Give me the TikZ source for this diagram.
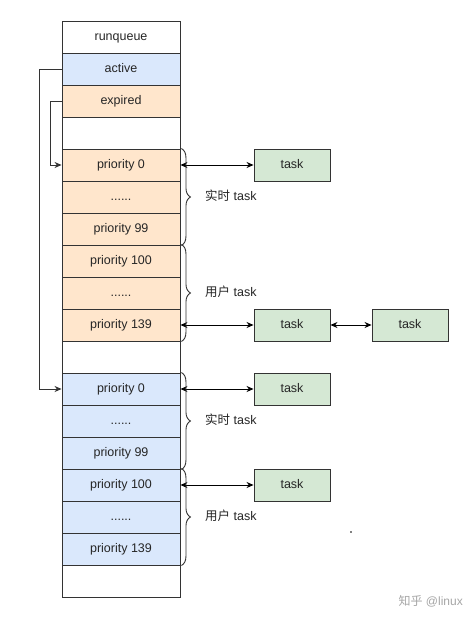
\documentclass[tikz,border=0pt]{standalone}
\usepackage{fontspec}
\setmainfont{Liberation Sans}
\newfontfamily\cjk{Noto Sans CJK SC}
\usetikzlibrary{arrows.meta,decorations.pathreplacing}
\definecolor{linec}{HTML}{333333}
\definecolor{bluef}{HTML}{DAE8FC}
\definecolor{orangef}{HTML}{FFE6CC}
\definecolor{greenf}{HTML}{D5E8D4}
\begin{document}
\begin{tikzpicture}[x=1pt,y=-1pt,
  font=\fontsize{12.5}{14}\selectfont,
  cell/.style={draw=linec, line width=0.9pt, minimum width=118pt, minimum height=32pt, inner sep=0pt, text=black!85, text height=9pt, text depth=2.5pt},
  bcell/.style={cell, fill=bluef},
  ocell/.style={cell, fill=orangef},
  wcell/.style={cell, fill=white},
  taskbox/.style={draw=linec, line width=0.9pt, fill=greenf, minimum width=76pt, minimum height=32pt, inner sep=0pt, text=black!85, text height=9pt, text depth=2.5pt},
  dbl/.style={draw=black, line width=0.9pt, {Stealth[length=7pt,width=6pt]}-{Stealth[length=7pt,width=6pt]}},
  onearrow/.style={draw=linec, line width=0.9pt, -{Stealth[length=7pt,width=6pt]}},
  bracestyle/.style={draw=linec, line width=0.9pt, decorate, decoration={brace, amplitude=9pt}},
  blabel/.style={anchor=west, inner sep=0pt, text=black!85}
]
\useasboundingbox[fill=white] (0,0) rectangle (474,620);

% column
\node[wcell] (rq) at (121,37) {runqueue};
\node[bcell] (act) at (121,69) {active};
\node[ocell] (exp) at (121,101) {expired};
\node[wcell] (blk1) at (121,133) {};
\node[ocell] (a0) at (121,165) {priority 0};
\node[ocell] (ad1) at (121,197) {......};
\node[ocell] (a99) at (121,229) {priority 99};
\node[ocell] (a100) at (121,261) {priority 100};
\node[ocell] (ad2) at (121,293) {......};
\node[ocell] (a139) at (121,325) {priority 139};
\node[wcell] (blk2) at (121,357) {};
\node[bcell] (b0) at (121,389) {priority 0};
\node[bcell] (bd1) at (121,421) {......};
\node[bcell] (b99) at (121,453) {priority 99};
\node[bcell] (b100) at (121,485) {priority 100};
\node[bcell] (bd2) at (121,517) {......};
\node[bcell] (b139) at (121,549) {priority 139};
\node[wcell] (blk3) at (121,581) {};

% tasks
\node[taskbox] (t1) at (292,165) {task};
\node[taskbox] (t2) at (292,325) {task};
\node[taskbox] (t3) at (410,325) {task};
\node[taskbox] (t4) at (292,389) {task};
\node[taskbox] (t5) at (292,485) {task};

% arrows
\draw[dbl] (a0.east) -- (t1.west);
\draw[dbl] (a139.east) -- (t2.west);
\draw[dbl] (t2.east) -- (t3.west);
\draw[dbl] (b0.east) -- (t4.west);
\draw[dbl] (b100.east) -- (t5.west);

% left connectors
\draw[onearrow] (act.west) -- ++(-22,0) |- (b0.west);
\draw[onearrow] (exp.west) -- ++(-11,0) |- (a0.west);

% braces
\draw[bracestyle] ([xshift=1pt]a0.north east) -- ([xshift=1pt]a99.south east);
\draw[bracestyle] ([xshift=1pt]a100.north east) -- ([xshift=1pt]a139.south east);
\draw[bracestyle] ([xshift=1pt]b0.north east) -- ([xshift=1pt]b99.south east);
\draw[bracestyle] ([xshift=1pt]b100.north east) -- ([xshift=1pt]b139.south east);
\node[blabel] (l1) at (205,196) {{\cjk 实时} task};
\node[blabel] (l2) at (205,292) {{\cjk 用户} task};
\node[blabel] (l3) at (205,420) {{\cjk 实时} task};
\node[blabel] (l4) at (205,516) {{\cjk 用户} task};

% small dot and watermark
\fill[black] (351,532) circle (0.8pt);
\node[anchor=east, inner sep=0pt, text=black!35, font=\fontsize{12}{14}\selectfont] (wm) at (463,601) {{\cjk 知乎} @linux};
\end{tikzpicture}
\end{document}
